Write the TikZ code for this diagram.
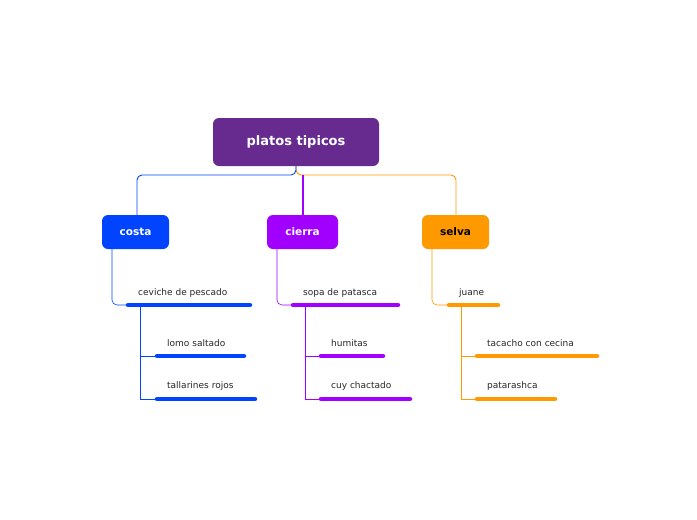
\documentclass[tikz,border=0pt]{standalone}
\usepackage{fontspec}
\setmainfont{DejaVu Sans}
\begin{document}
\begin{tikzpicture}[x=1pt,y=-1pt,
  box/.style={rounded corners=6pt,minimum width=#1,inner sep=0pt,font=\bfseries},
  lab/.style={anchor=base west,inner sep=0pt,font=\fontsize{9}{10}\selectfont,text=black!85},
  bar/.style={line width=4.5pt,line cap=round},
  conn/.style={line width=0.9pt,rounded corners=5pt}]
\definecolor{root}{RGB}{103,43,144}
\definecolor{cblue}{RGB}{0,68,255}
\definecolor{cpur}{RGB}{161,0,255}
\definecolor{corg}{RGB}{255,153,0}
\useasboundingbox (0,0) rectangle (697,520);
\node[box=166pt,minimum height=48pt,fill=root,text=white,font=\bfseries\fontsize{13}{15}\selectfont] (r) at (296,142) {platos tipicos};
\node[box=67pt,minimum height=34pt,fill=cblue,text=white,font=\bfseries\fontsize{10.5}{12}\selectfont] (c) at (135.5,232) {costa};
\node[box=71pt,minimum height=34pt,fill=cpur,text=white,font=\bfseries\fontsize{10.5}{12}\selectfont] (ci) at (302.5,232) {cierra};
\node[box=67pt,minimum height=34pt,fill=corg,text=black,font=\bfseries\fontsize{10.5}{12}\selectfont] (s) at (455.5,232) {selva};
\coordinate (j) at (296,175);
\draw[conn,corg] (r.south) -- (j) -- (456,175) -- (s.north -| 456,0);
\draw[conn,cblue] (r.south) -- (j) -- (137,175) -- (c.north -| 137,0);
\draw[line width=1.2pt,cpur] (303,175) -- (ci.north -| 303,0);
\foreach \col/\px/\sx/\xa/\xb/\ta/\xc/\xd/\tb/\xe/\xf/\tc/\pn in {
  cblue/112/140/128/250/ceviche de pescado/157/244/lomo saltado/157/255/tallarines rojos/c,
  cpur/277/305/293/398/sopa de patasca/321/383/humitas/321/410/cuy chactado/ci,
  corg/432/461/449/498/juane/477/597/tacacho con cecina/477/555/patarashca/s}{
  \coordinate (p\pn) at (\px,249);
  \coordinate (a\pn) at (\xa,305);
  \draw[conn,line width=0.6pt,\col] (p\pn) -- (\px,305) -- (a\pn);
  \draw[bar,\col] (a\pn) -- (\xb,305);
  \node[lab] at (\xa+10,295.5) {\ta};
  \coordinate (b\pn) at (\xc,356);
  \coordinate (e\pn) at (\xe,399);
  \draw[line width=0.6pt,\col] (\sx,305) |- (b\pn);
  \draw[line width=0.6pt,\col] (\sx,356) |- (e\pn);
  \draw[bar,\col] (b\pn) -- (\xd,356);
  \draw[bar,\col] (e\pn) -- (\xf,399);
  \node[lab] at (\xc+10,346.5) {\tb};
  \node[lab] at (\xe+10,388.5) {\tc};
}
\end{tikzpicture}
\end{document}
